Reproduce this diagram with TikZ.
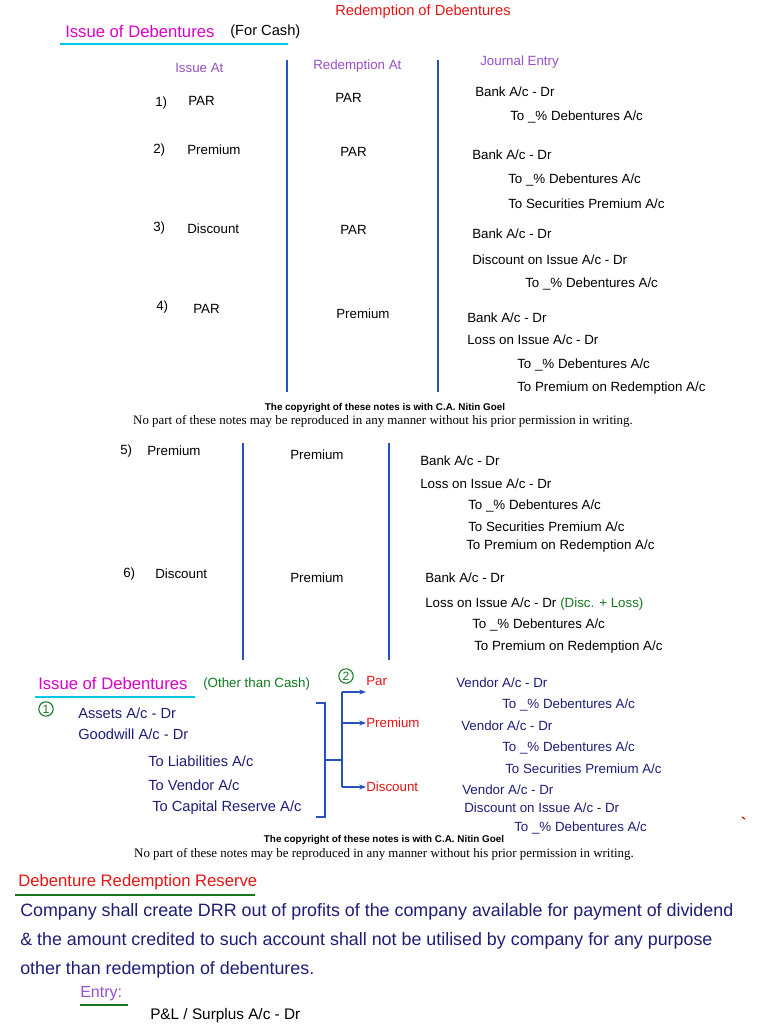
\documentclass[tikz,border=0pt]{standalone}
\usepackage{fontspec}
\setmainfont{Liberation Sans}
\newfontfamily\serifcopy{Liberation Serif}
\usetikzlibrary{arrows.meta}
\definecolor{ink}{RGB}{30,30,120}
\definecolor{hdr}{RGB}{150,80,200}
\definecolor{mag}{RGB}{220,0,200}
\definecolor{redink}{RGB}{230,20,20}
\definecolor{grn}{RGB}{20,120,30}
\definecolor{cyanl}{RGB}{0,200,230}
\definecolor{vline}{RGB}{40,80,190}
\tikzset{
 t/.style={anchor=west,inner sep=0pt,text=ink,font=\fontsize{10}{12}\selectfont},
 h/.style={t,text=hdr},
 big/.style={t,font=\fontsize{13.4}{15}\selectfont},
 hd/.style={t,font=\fontsize{12.5}{14}\selectfont},
 cp/.style={inner sep=0pt,font=\bfseries\fontsize{7.4}{9}\selectfont},
 cs/.style={inner sep=0pt,font=\serifcopy\fontsize{9.7}{11}\selectfont},
 sep/.style={draw=vline,line width=1.2pt},
 arr/.style={draw=vline,line width=0.9pt,-{Stealth[length=5pt]}},
 circ/.style={draw=grn,circle,text=grn,inner sep=1pt,line width=0.8pt,font=\fontsize{9}{10}\selectfont}
}
\begin{document}
\begin{tikzpicture}[x=0.75pt,y=-0.75pt]
\useasboundingbox[fill=white] (0,0) rectangle (768,1024);
\node[inner sep=0pt,text=redink,font=\fontsize{11}{13}\selectfont] (title) at (423,12) {Redemption of Debentures};
\node[hd,text=mag] (iss1) at (65,32) {Issue of Debentures};
\node[t,text=black,font=\fontsize{11}{13}\selectfont] (fc) at (230,32) {(For Cash)};
\draw[cyanl,line width=1.2pt] (60,44) -- (288,44);
\node[h] (ha) at (175,68) {Issue At};
\node[h] (hb) at (313,66) {Redemption At};
\node[h] (hc) at (480,62) {Journal Entry};
\coordinate (s1a) at (287,60); \coordinate (s1b) at (287,392);
\coordinate (s2a) at (438,60); \coordinate (s2b) at (438,392);
\draw[sep] (s1a) -- (s1b); \draw[sep] (s2a) -- (s2b);
% row 1
\node[t,text=black] (n1) at (155,103) {1)}; \node[t,text=black] (i1) at (188,101) {PAR};
\node[t,text=black] (r1) at (335,98) {PAR};
\node[t,text=black] (j1a) at (475,92) {Bank A/c - Dr};
\node[t,text=black] (j1b) at (510,117) {To \_\% Debentures A/c};
% row 2
\node[t,text=black] (n2) at (153,150) {2)}; \node[t,text=black] (i2) at (187,150) {Premium};
\node[t,text=black] (r2) at (340,152) {PAR};
\node[t,text=black] (j2a) at (472,155) {Bank A/c - Dr};
\node[t,text=black] (j2b) at (508,180) {To \_\% Debentures A/c};
\node[t,text=black] (j2c) at (508,204) {To Securities Premium A/c};
% row 3
\node[t,text=black] (n3) at (153,228) {3)}; \node[t,text=black] (i3) at (187,229) {Discount};
\node[t,text=black] (r3) at (340,230) {PAR};
\node[t,text=black] (j3a) at (472,234) {Bank A/c - Dr};
\node[t,text=black] (j3b) at (472,260) {Discount on Issue A/c - Dr};
\node[t,text=black] (j3c) at (525,284) {To \_\% Debentures A/c};
% row 4
\node[t,text=black] (n4) at (156,307) {4)}; \node[t,text=black] (i4) at (193,309) {PAR};
\node[t,text=black] (r4) at (336,314) {Premium};
\node[t,text=black] (j4a) at (467,318) {Bank A/c - Dr};
\node[t,text=black] (j4b) at (467,340) {Loss on Issue A/c - Dr};
\node[t,text=black] (j4c) at (517,365) {To \_\% Debentures A/c};
\node[t,text=black] (j4d) at (517,388) {To Premium on Redemption A/c};
\node[cp] (c1) at (385,408) {The copyright of these notes is with C.A. Nitin Goel};
\node[cs] (c2) at (383,421) {No part of these notes may be reproduced in any manner without his prior permission in writing.};
% second table
\coordinate (s3a) at (243,443); \coordinate (s3b) at (243,660);
\coordinate (s4a) at (389,443); \coordinate (s4b) at (389,660);
\draw[sep] (s3a) -- (s3b); \draw[sep] (s4a) -- (s4b);
\node[t,text=black] (n5) at (120,451) {5)}; \node[t,text=black] (i5) at (147,451) {Premium};
\node[t,text=black] (r5) at (290,455) {Premium};
\node[t,text=black] (j5a) at (420,461) {Bank A/c - Dr};
\node[t,text=black] (j5b) at (420,484) {Loss on Issue A/c - Dr};
\node[t,text=black] (j5c) at (468,506) {To \_\% Debentures A/c};
\node[t,text=black] (j5d) at (468,527) {To Securities Premium A/c};
\node[t,text=black] (j5e) at (466,546) {To Premium on Redemption A/c};
\node[t,text=black] (n6) at (123,574) {6)}; \node[t,text=black] (i6) at (155,574) {Discount};
\node[t,text=black] (r6) at (290,578) {Premium};
\node[t,text=black] (j6a) at (425,578) {Bank A/c - Dr};
\node[t,text=black] (j6b) at (425,603) {Loss on Issue A/c - Dr};
\node[t,text=grn] (j6g) at (560,604) {(Disc. + Loss)};
\node[t,text=black] (j6c) at (472,625) {To \_\% Debentures A/c};
\node[t,text=black] (j6d) at (474,647) {To Premium on Redemption A/c};
% other than cash
\node[hd,text=mag] (iss2) at (38,684) {Issue of Debentures};
\node[t,text=grn] (otc) at (203,684) {(Other than Cash)};
\draw[cyanl,line width=1.2pt] (35,697) -- (195,697);
\node[circ] (o1) at (46,709) {1};
\node[t,font=\fontsize{11}{13}\selectfont] (a1) at (78,713) {Assets A/c - Dr};
\node[t,font=\fontsize{11}{13}\selectfont] (a2) at (78,734) {Goodwill A/c - Dr};
\node[t,font=\fontsize{11}{13}\selectfont] (a3) at (148,761) {To Liabilities A/c};
\node[t,font=\fontsize{11}{13}\selectfont] (a4) at (148,785) {To Vendor A/c};
\node[t,font=\fontsize{11}{13}\selectfont] (a5) at (152,808) {To Capital Reserve A/c};
\draw[vline,line width=0.9pt] (316,703) -- (325,703) -- (325,817) -- (316,817);
\coordinate (bm) at (325,760); \coordinate (bj) at (342,760);
\draw[vline,line width=0.9pt] (bm) -- (bj);
\coordinate (vt) at (342,692); \coordinate (vb) at (342,787);
\draw[vline,line width=0.9pt] (vt) -- (vb);
\node[circ] (o2) at (346,676) {2};
\node[t,text=redink] (par) at (366,681) {Par};
\node[t,text=redink] (prem) at (366,723) {Premium};
\node[t,text=redink] (disc) at (366,787) {Discount};
\draw[arr] (vt) -- (par.west|-vt);
\draw[arr] (342,723) -- (prem.west);
\draw[arr] (vb) -- (disc.west);
\node[t] (v1) at (456,683) {Vendor A/c - Dr};
\node[t] (v2) at (502,705) {To \_\% Debentures A/c};
\node[t] (v3) at (461,726) {Vendor A/c - Dr};
\node[t] (v4) at (502,748) {To \_\% Debentures A/c};
\node[t] (v5) at (505,769) {To Securities Premium A/c};
\node[t] (v6) at (462,790) {Vendor A/c - Dr};
\node[t] (v7) at (464,808) {Discount on Issue A/c - Dr};
\node[t] (v8) at (514,828) {To \_\% Debentures A/c};
\draw[redink,line width=1pt] (742,817) -- (745,819);
\node[cp] (c3) at (384,840) {The copyright of these notes is with C.A. Nitin Goel};
\node[cs] (c4) at (384,854) {No part of these notes may be reproduced in any manner without his prior permission in writing.};
% DRR
\node[hd,text=redink] (drr) at (18,882) {Debenture Redemption Reserve};
\draw[grn,line width=1.2pt] (15,895) -- (255,895);
\node[big] (p1) at (20,912) {Company shall create DRR out of profits of the company available for payment of dividend};
\node[big] (p2) at (20,941) {\& the amount credited to such account shall not be utilised by company for any purpose};
\node[big] (p3) at (20,970) {other than redemption of debentures.};
\node[t,text=hdr,font=\fontsize{12}{14}\selectfont] (en) at (80,994) {Entry:};
\draw[grn,line width=1pt] (80,1005) -- (128,1005);
\node[t,text=black,font=\fontsize{11.5}{13}\selectfont] (pl) at (150,1016) {P\&L / Surplus A/c - Dr};
\end{tikzpicture}
\end{document}
